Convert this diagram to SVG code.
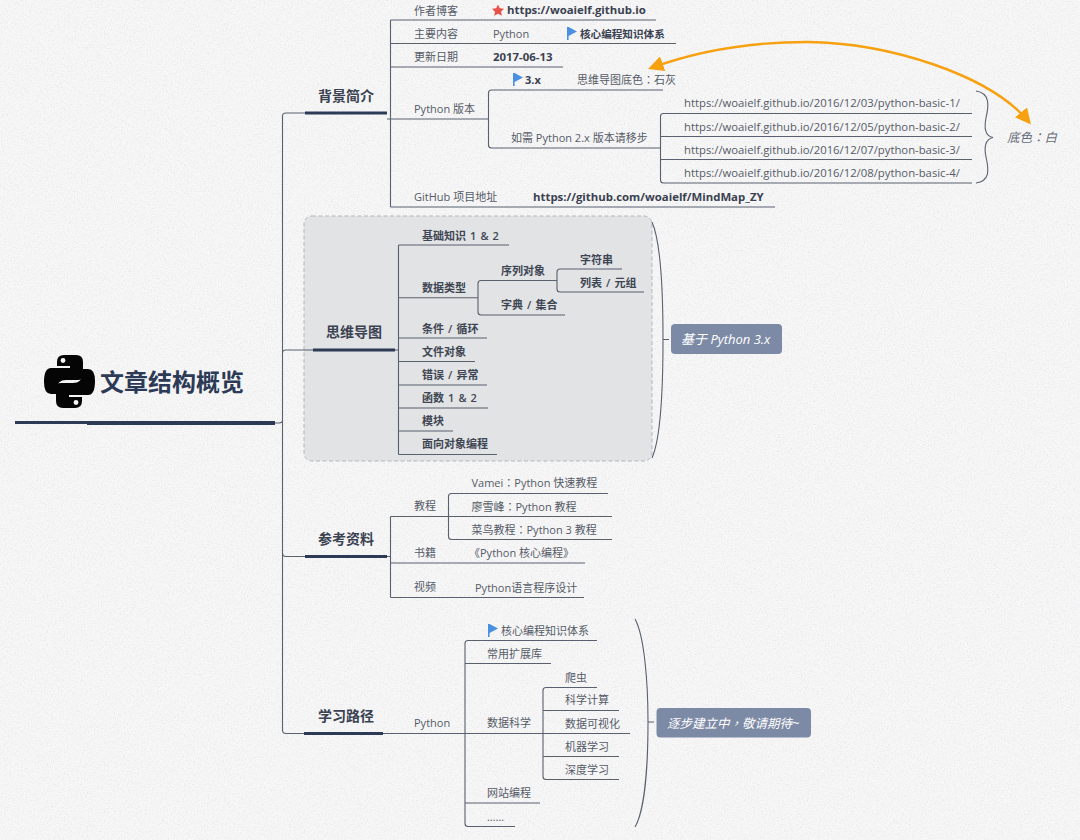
<svg xmlns="http://www.w3.org/2000/svg" width="1080" height="840" viewBox="0 0 1080 840">
<style>
text{font-family:"Open Sans","Noto Sans CJK SC","Noto Sans",sans-serif;font-size:11px;fill:#555b66}
tspan{font-family:"Noto Sans CJK TC",sans-serif}
.u{font-size:11.300px}
.b{font-weight:700;fill:#3a4150}
.lb{font-size:11.400px}
.m{font-weight:600;fill:#3f4653}
.w{word-spacing:1.200px}
.t{font-size:14px;font-weight:700;fill:#3a4150}
.n{font-size:12.500px;font-style:italic;fill:#fff}
.i{font-size:12.500px;font-style:italic;fill:#666c78}
.l{fill:none;stroke:#59606e;stroke-width:1.100}
.h{fill:none;stroke:#2c3a56;stroke-width:3}
.fl{fill:#4a90e2}
</style>
<defs>
<path id="flag" d="M0 0H1.600V13H0ZM1.600 0L10 4.600L1.600 9Z"/>
<marker id="ar" viewBox="0 0 10 10" refX="8" refY="5" markerWidth="6.500" markerHeight="6.500" orient="auto-start-reverse"><path d="M0 0L10 5L0 10Z" fill="#f7a010"/></marker>
<filter id="grain" x="0" y="0" width="100%" height="100%"><feTurbulence type="fractalNoise" baseFrequency="0.7" numOctaves="2" seed="4"/><feColorMatrix values="0 0 0 0 0.45 0 0 0 0 0.45 0 0 0 0 0.47 0.35 0.35 0 0 -0.32"/></filter>
</defs>
<rect width="1080" height="840" fill="#f7f7f8"/>
<rect width="1080" height="840" filter="url(#grain)"/>
<rect x="304" y="216" width="348" height="245" rx="8" fill="#e1e3e5" stroke="#b4b7bb" stroke-dasharray="4 2.500"/>
<g id="connectors">
<path class="l" d="M275 423H279Q282.500 423 282.500 420V116Q282.500 113 286 113H305M282.500 353Q282.500 350 286 350H313M282.500 420V553Q282.500 556.500 286 556.500H305M282.500 553V730Q282.500 733.500 286 733.500H305"/>
<path class="h" d="M15 422.500H275M87 423.500H275"/>
<path class="h" d="M305 113H387M313 350H395M305 556.500H387M304 733.500H383"/>
<path class="l" d="M387 119H488M390.500 20V207M390.500 20H656M390.500 43.500H676M390.500 67H563M390.500 207H775"/>
<path class="l" d="M663 90H491.500Q488.500 90 488.500 93V145Q488.500 148 491.500 148H660.500"/>
<path class="l" d="M972 113.500H663.500Q660.500 113.500 660.500 116.500V180Q660.500 183 663.500 183H972M660.500 136.500H972M660.500 159.500H972"/>
<path class="l" d="M395 350H398.500M398.500 245V454.500M398.500 245H509M398.500 297.700H478M398.500 338H487M398.500 361.500H475M398.500 385H487M398.500 408H488M398.500 431H453M398.500 454.500H497"/>
<path class="l" d="M557 280.500H481Q478 280.500 478 283.500V312Q478 315 481 315H565"/>
<path class="l" d="M622 269H560Q557 269 557 272V289Q557 292 560 292H644"/>
<path class="l" d="M387 556.500H390.500M390.500 516.500V597.500M390.500 516.500H449M390.500 563H585M390.500 597.500H584"/>
<path class="l" d="M608 493.500H451.500Q448.500 493.500 448.500 496.500V536.500Q448.500 539.500 451.500 539.500H612M448.500 516.500H612"/>
<path class="l" d="M383 733.500H630"/>
<path class="l" d="M597 640.500H468Q465 640.500 465 643.500V823.500Q465 826.500 468 826.500H515M465 663.500H551M465 803H540"/>
<path class="l" d="M597 687.500H546Q543 687.500 543 690.500V776.500Q543 779.500 546 779.500H619M543 710.500H619M543 756.500H619"/>
<path id="brace-urls" class="l" d="M976 91C990 93 989 105 986 118C984 128 985 136 993 137.500C985 139 984 148 986 157C989 170 990 181 976 183"/>
<path id="brace-mind" class="l" d="M652 222C660 240 663 290 663 339.500C663 390 660 440 652 458M663 339.500H669"/>
<path id="brace-learn" class="l" d="M635 619C644 635 648 680 648 722C648 770 644 812 635 827M648 722H654"/>
<path id="orange" d="M1029 122C990 75 890 43 807 42C755 42 700 50 651 68" fill="none" stroke="#f7a010" stroke-width="2.400" marker-start="url(#ar)" marker-end="url(#ar)"/>
</g>
<g id="root">
<g fill="#050505">
<path d="M64 355H76Q83 355 83 362V375Q83 380 78 380H66Q57 380 57 389V394H51Q44 394 44 382Q44 368 51 368H70V366H57V362Q57 355 64 355Z"/>
<path d="M64 355H76Q83 355 83 362V375Q83 380 78 380H66Q57 380 57 389V394H51Q44 394 44 382Q44 368 51 368H70V366H57V362Q57 355 64 355Z" transform="rotate(180 69.500 381.500)"/>
</g>
<circle cx="63" cy="360.500" r="2.400" fill="#f5f5f6"/><circle cx="76" cy="402.500" r="2.400" fill="#f5f5f6"/>
<text x="100" y="391" style="font-size:24px;font-weight:700;fill:#2c3a56">文章结构概览</text>
</g>
<g id="topic-background">
<text class="t" x="318" y="101">背景简介</text>
<text x="414" y="14.500">作者博客</text>
<path d="M498 4.500L499.800 8.300L504 8.800L501 11.700L501.800 15.800L498 13.800L494.200 15.800L495 11.700L492 8.800L496.200 8.300Z" fill="#e8504a"/>
<text class="b lb" x="507" y="14">https://woaielf.github.io</text>
<text x="414" y="37.500">主要内容</text>
<text x="493" y="37.500">Python</text>
<use href="#flag" class="fl" x="567" y="27"/>
<text class="b" x="580" y="37.500" style="font-size:10.600px">核心编程知识体系</text>
<text x="414" y="61">更新日期</text>
<text class="b lb" x="493" y="61">2017-06-13</text>
<use href="#flag" class="fl" x="513" y="73"/>
<text class="b" x="525" y="83.500">3.x</text>
<text x="577" y="84">思维导图底色<tspan>：</tspan>石灰</text>
<text x="414" y="113">Python 版本</text>
<text x="511" y="142">如需 Python 2.x 版本请移步</text>
<text class="u" x="684" y="107">https://woaielf.github.io/2016/12/03/python-basic-1/</text>
<text class="u" x="684" y="130.500">https://woaielf.github.io/2016/12/05/python-basic-2/</text>
<text class="u" x="684" y="153.500">https://woaielf.github.io/2016/12/07/python-basic-3/</text>
<text class="u" x="684" y="177">https://woaielf.github.io/2016/12/08/python-basic-4/</text>
<text class="i" x="1007" y="142">底色<tspan>：</tspan>白</text>
<text x="414" y="201">GitHub 项目地址</text>
<text class="b lb" x="533" y="201">https://github.com/woaielf/MindMap_ZY</text>
</g>
<g id="topic-mindmap">
<text class="t" x="326" y="337">思维导图</text>
<text class="m w" x="422" y="240">基础知识 1 &amp; 2</text>
<text class="m" x="422" y="292">数据类型</text>
<text class="m" x="501" y="275">序列对象</text>
<text class="m w" x="501" y="309">字典 / 集合</text>
<text class="m" x="580" y="263.500">字符串</text>
<text class="m w" x="580" y="286.500">列表 / 元组</text>
<text class="m w" x="422" y="332.500">条件 / 循环</text>
<text class="m" x="422" y="356">文件对象</text>
<text class="m w" x="422" y="379">错误 / 异常</text>
<text class="m w" x="422" y="402">函数 1 &amp; 2</text>
<text class="m" x="422" y="425">模块</text>
<text class="m" x="422" y="448">面向对象编程</text>
<rect x="671" y="324" width="111" height="30" rx="4" fill="#7d8aa6"/>
<text class="n" x="681" y="344" style="font-size:13px">基于 Python 3.x</text>
</g>
<g id="topic-references">
<text class="t" x="318" y="544">参考资料</text>
<text x="414" y="510">教程</text>
<text x="471.500" y="487">Vamei<tspan>：</tspan>Python 快速教程</text>
<text x="471.500" y="510.500">廖雪峰<tspan>：</tspan>Python 教程</text>
<text x="471.500" y="534">菜鸟教程<tspan>：</tspan>Python 3 教程</text>
<text x="414" y="557">书籍</text>
<text x="469" y="557">《Python 核心编程》</text>
<text x="414" y="591">视频</text>
<text x="475" y="592">Python语言程序设计</text>
</g>
<g id="topic-path">
<text class="t" x="318" y="721">学习路径</text>
<text x="414" y="727">Python</text>
<use href="#flag" class="fl" x="488" y="624"/>
<text x="501" y="635">核心编程知识体系</text>
<text x="487" y="658">常用扩展库</text>
<text x="487" y="727">数据科学</text>
<text x="565" y="682">爬虫</text>
<text x="565" y="704">科学计算</text>
<text x="565" y="727.500">数据可视化</text>
<text x="565" y="750.500">机器学习</text>
<text x="565" y="774">深度学习</text>
<text x="487" y="797">网站编程</text>
<text x="487" y="821">……</text>
<rect x="656.500" y="708" width="154.500" height="29.500" rx="4" fill="#7d8aa6"/>
<text class="n" x="667" y="727.500">逐步建立中<tspan>，</tspan>敬请期待~</text>
</g>
</svg>
